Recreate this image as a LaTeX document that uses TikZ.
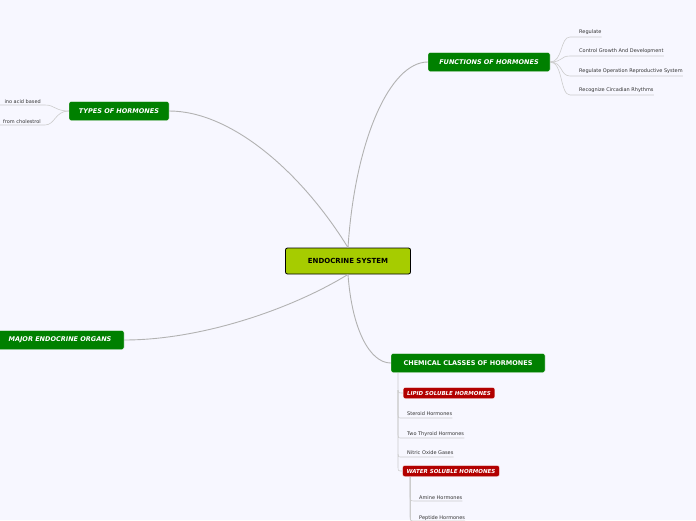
\documentclass[tikz,border=0pt]{standalone}
\usepackage{fontspec}
\setmainfont{DejaVu Sans}
\begin{document}
\begin{tikzpicture}[x=1pt,y=-1pt,
  topic/.style={draw=black!70,fill=green!40!black!60!lime!90!black,fill=black!0,rounded corners=2pt,thick,minimum height=18pt,font=\bfseries\fontsize{8}{9}\selectfont},
  mainbox/.style={fill=green!50!black,draw=white,rounded corners=2pt,minimum height=19pt,text=white,font=\bfseries\itshape\fontsize{6.5}{8}\selectfont,inner xsep=6pt},
  redbox/.style={fill=red!70!black,draw=white,rounded corners=2pt,minimum height=11pt,text=white,font=\bfseries\itshape\fontsize{5.5}{6}\selectfont,inner xsep=4pt,inner ysep=1pt},
  leaf/.style={anchor=base west,font=\fontsize{5}{6}\selectfont,text=black!80,inner sep=0pt},
  link/.style={draw=black!30,line width=0.9pt},
  twig/.style={draw=black!20,line width=0.6pt}]
\useasboundingbox[fill=blue!3] (0,0) rectangle (696,520);
% central topic
\node[draw=black,thick,fill=lime!60!olive,rounded corners=2pt,minimum width=125pt,minimum height=26pt,font=\bfseries\fontsize{7}{8}\selectfont] (root) at (348,261) {ENDOCRINE SYSTEM};
% main branches
\node[mainbox,minimum width=122pt] (func) at (489,62) {FUNCTIONS OF HORMONES};
\node[mainbox,minimum width=100pt] (types) at (119,111) {TYPES OF HORMONES};
\node[mainbox,minimum width=128pt] (organs) at (60,340) {MAJOR ENDOCRINE ORGANS};
\node[mainbox,minimum width=154pt,font=\bfseries\fontsize{6.5}{8}\selectfont] (chem) at (468,363) {CHEMICAL CLASSES OF HORMONES};
\draw[link] (root.north) .. controls (355,140) and (390,62) .. (func.west);
\draw[link] (root.north) .. controls (300,170) and (230,111) .. (types.east);
\draw[link] (root.south) .. controls (290,310) and (200,340) .. (organs.east);
\draw[link] (root.south) .. controls (352,330) and (370,363) .. (chem.west);
% functions
\foreach \y/\t in {33/Regulate,52/Control Growth And Development,72/Regulate Operation Reproductive System,91/Recognize Circadian Rhythms}{
  \node[leaf] (f\y) at (579,\y) {\t};
  \draw[twig] (func.east) .. controls (563,62) and (560,\y+4) .. (570,\y+4) -- (f\y.base east |- 0,\y+4);
}
% types
\node[leaf,anchor=base east] (t1) at (41,103) {ino acid based};
\node[leaf,anchor=base east] (t2) at (41,123) {from cholestrol};
\draw[twig] (types.west) .. controls (55,111) and (55,105) .. (45,105) -- (0,105);
\draw[twig] (types.west) .. controls (55,111) and (55,125) .. (45,125) -- (0,125);
% chemical classes
\node[redbox] (lipid) at (449,393) {LIPID SOLUBLE HORMONES};
\node[redbox] (water) at (451,471) {WATER SOLUBLE HORMONES};
\coordinate (chemfoot) at (398,373);
\draw[twig] (chemfoot) -- (398,388) .. controls (398,393) .. (lipid.west);
\foreach \y/\t in {415/Steroid Hormones,435/Two Thyroid Hormones,454/Nitric Oxide Gases}{
  \node[leaf] (c\y) at (407,\y) {\t};
  \draw[twig] (398,390) -- (398,\y) .. controls (398,\y+3) .. (403,\y+3) -- (c\y.base east |- 0,\y+3);
}
\draw[twig] (398,454) -- (398,466) .. controls (398,471) .. (water.west);
\draw[twig] (410,477) -- (410,520);
\foreach \y/\t in {499/Amine Hormones,519/Peptide Hormones}{
  \node[leaf] (w\y) at (419,\y) {\t};
  \draw[twig] (410,477) -- (410,\y-3) .. controls (410,\y+2) .. (416,\y+2) -- (w\y.base east |- 0,\y+2);
}
\end{tikzpicture}
\end{document}
